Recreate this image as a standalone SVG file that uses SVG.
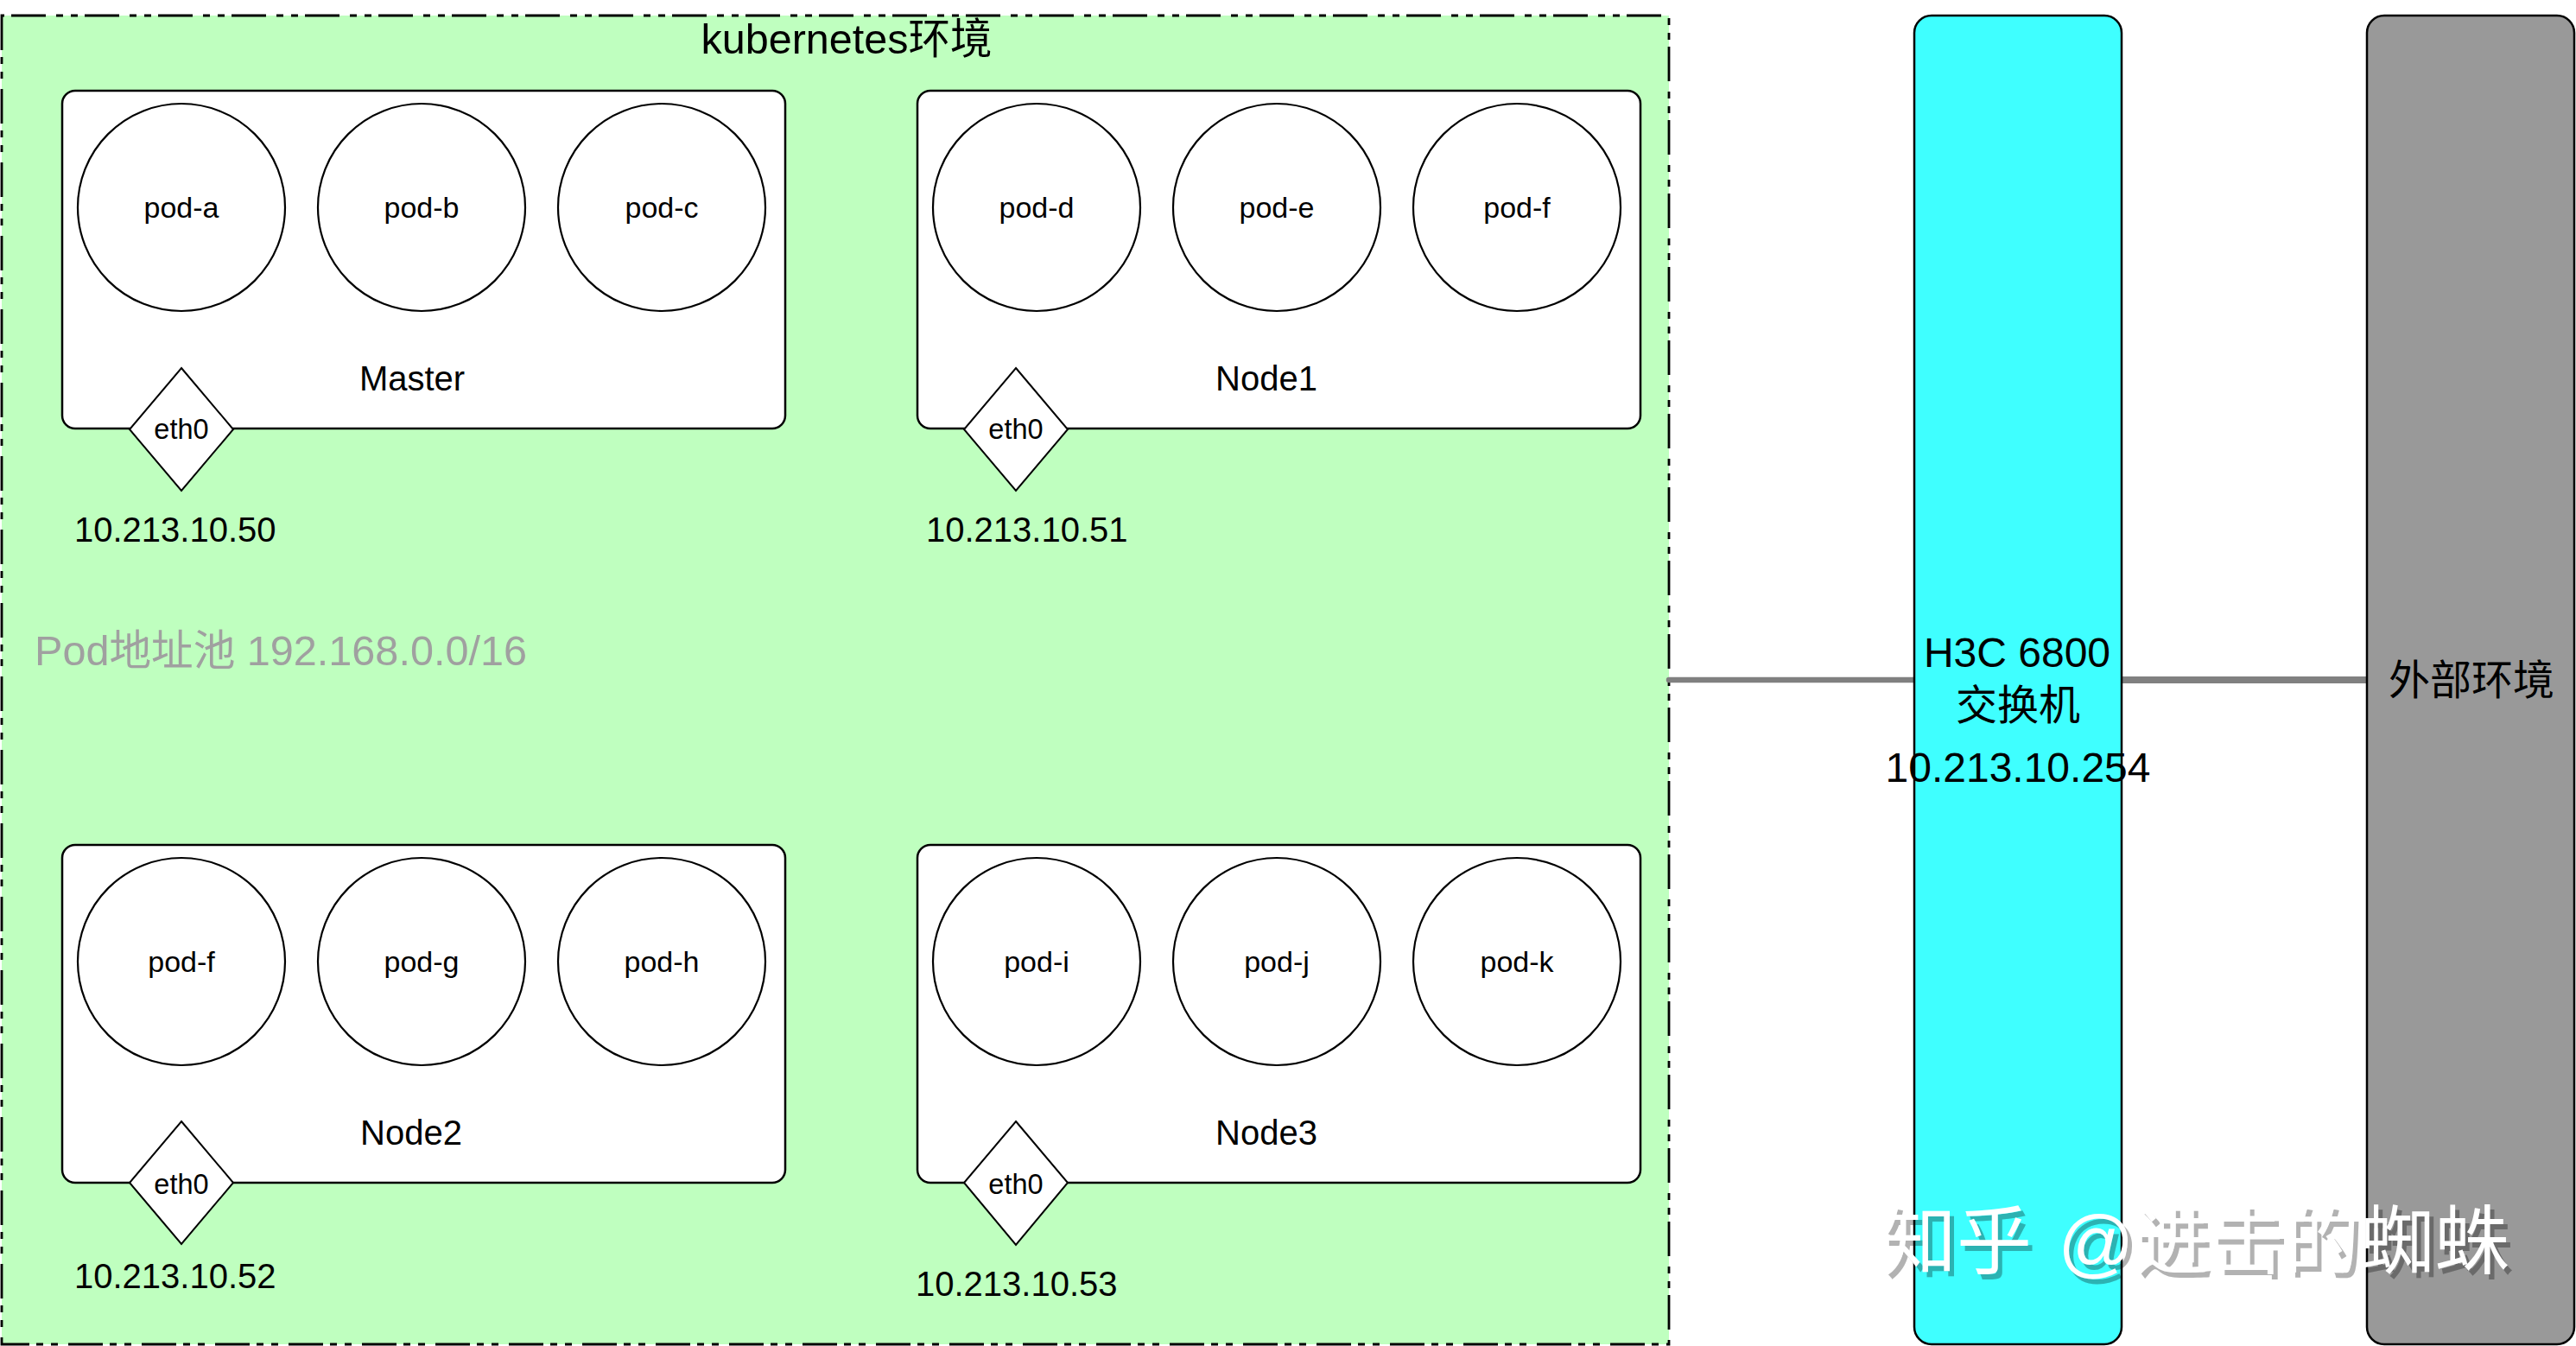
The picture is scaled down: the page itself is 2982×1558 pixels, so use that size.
<svg xmlns="http://www.w3.org/2000/svg" width="2982" height="1558" viewBox="0 0 2982 1558">
<style>
text{font-family:"Liberation Sans","Noto Sans CJK SC",sans-serif;fill:#000}
.m{text-anchor:middle}
.t48{font-size:48px}
.t40{font-size:40px}
.t33{font-size:34px}
.e{font-size:32.5px}
.host{fill:#fff;stroke:#000;stroke-width:2.5}
.pod{fill:#fff;stroke:#000;stroke-width:2.2}
.eth{fill:#fff;stroke:#000;stroke-width:2}
.link{stroke:#808080;fill:none;stroke-linecap:round}
.wm{font-size:87px;word-spacing:6px;fill:#fff;filter:drop-shadow(5px 6px 0 rgba(0,0,0,.3))}
</style>
<g id="k8s-env">
<rect x="2" y="18" width="1930" height="1538" fill="#bfffbf" stroke="#000" stroke-width="2.8" stroke-dasharray="40 12 8 9 8 8" stroke-dashoffset="74"/>
<text class="m" style="font-size:48.5px" x="980" y="62">kubernetes环境</text>
<text x="40" y="770" style="fill:#a0a0a0;font-size:48.6px">Pod地址池 192.168.0.0/16</text>
</g>
<g id="connectors">
<line class="link" x1="1932" y1="787" x2="2216" y2="787" stroke-width="6.5"/>
<line class="link" x1="2456" y1="787" x2="2740" y2="787" stroke-width="8"/>
</g>
<g id="master">
<rect class="host" x="72" y="105" width="837" height="391" rx="15"/>
<circle class="pod" cx="210" cy="240" r="120"/><text class="t33 m" x="210" y="252">pod-a</text>
<circle class="pod" cx="488" cy="240" r="120"/><text class="t33 m" x="488" y="252">pod-b</text>
<circle class="pod" cx="766" cy="240" r="120"/><text class="t33 m" x="766" y="252">pod-c</text>
<text class="t40 m" x="477" y="452">Master</text>
<polygon class="eth" points="210,426 270,497 210,568 150,497"/><text class="e m" x="210" y="508">eth0</text>
<text class="t40" x="86" y="627">10.213.10.50</text>
</g>
<g id="node1">
<rect class="host" x="1062" y="105" width="837" height="391" rx="15"/>
<circle class="pod" cx="1200" cy="240" r="120"/><text class="t33 m" x="1200" y="252">pod-d</text>
<circle class="pod" cx="1478" cy="240" r="120"/><text class="t33 m" x="1478" y="252">pod-e</text>
<circle class="pod" cx="1756" cy="240" r="120"/><text class="t33 m" x="1756" y="252">pod-f</text>
<text class="t40 m" x="1466" y="452">Node1</text>
<polygon class="eth" points="1176,426 1236,497 1176,568 1116,497"/><text class="e m" x="1176" y="508">eth0</text>
<text class="t40" x="1072" y="627">10.213.10.51</text>
</g>
<g id="node2">
<rect class="host" x="72" y="978" width="837" height="391" rx="15"/>
<circle class="pod" cx="210" cy="1113" r="120"/><text class="t33 m" x="210" y="1125">pod-f</text>
<circle class="pod" cx="488" cy="1113" r="120"/><text class="t33 m" x="488" y="1125">pod-g</text>
<circle class="pod" cx="766" cy="1113" r="120"/><text class="t33 m" x="766" y="1125">pod-h</text>
<text class="t40 m" x="476" y="1325">Node2</text>
<polygon class="eth" points="210,1298 270,1369 210,1440 150,1369"/><text class="e m" x="210" y="1382">eth0</text>
<text class="t40" x="86" y="1491">10.213.10.52</text>
</g>
<g id="node3">
<rect class="host" x="1062" y="978" width="837" height="391" rx="15"/>
<circle class="pod" cx="1200" cy="1113" r="120"/><text class="t33 m" x="1200" y="1125">pod-i</text>
<circle class="pod" cx="1478" cy="1113" r="120"/><text class="t33 m" x="1478" y="1125">pod-j</text>
<circle class="pod" cx="1756" cy="1113" r="120"/><text class="t33 m" x="1756" y="1125">pod-k</text>
<text class="t40 m" x="1466" y="1325">Node3</text>
<polygon class="eth" points="1176,1298 1236,1369 1176,1441 1116,1369"/><text class="e m" x="1176" y="1382">eth0</text>
<text class="t40" x="1060" y="1500">10.213.10.53</text>
</g>
<g id="switch">
<rect x="2216" y="18" width="240" height="1538" rx="20" fill="#3fffff" stroke="#000" stroke-width="2.5"/>
<text class="t48 m" x="2335" y="772">H3C 6800</text>
<text class="t48 m" x="2336" y="833">交换机</text>
<text class="t48 m" x="2336" y="905">10.213.10.254</text>
</g>
<g id="external">
<rect x="2740" y="18" width="240" height="1538" rx="20" fill="#999" stroke="#000" stroke-width="2.5"/>
<text class="t48 m" x="2861" y="804">外部环境</text>
</g>
<text class="wm" x="2178" y="1468">知乎 @进击的蜘蛛</text>
</svg>
